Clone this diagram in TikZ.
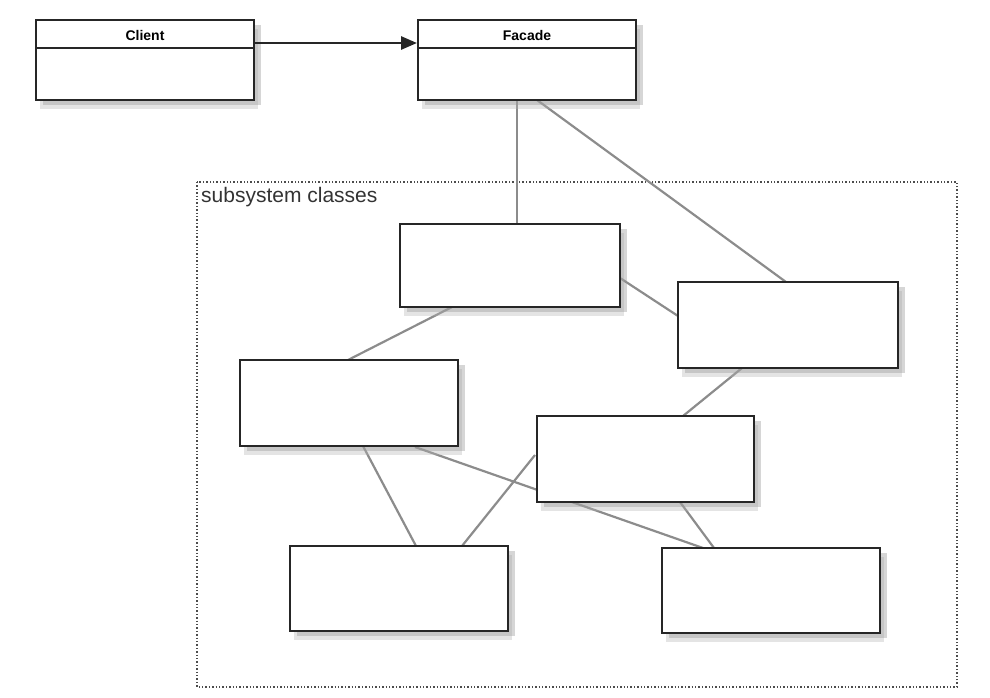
\documentclass[tikz,border=0pt]{standalone}
\usepackage{fontspec}
\setmainfont{Liberation Sans}
\usetikzlibrary{shadows,arrows.meta}
\begin{document}
\begin{tikzpicture}[x=1pt,y=-1pt,
  cls/.style={draw=black!85,line width=1.5pt,fill=white,
    drop shadow={shadow xshift=4pt,shadow yshift=-9pt,fill=black!30,opacity=0.35},
    drop shadow={shadow xshift=7pt,shadow yshift=-5pt,fill=black!40,opacity=0.4}},
  link/.style={draw=black!45,line width=2.2pt},
  title/.style={font=\bfseries\fontsize{14}{16}\selectfont}]
\useasboundingbox (0,0) rectangle (990,697);
% subsystem frame
\draw[dotted,line width=1.4pt,black!70] (197,182) rectangle (957,687);
\node[anchor=west,font=\fontsize{21}{24}\selectfont,black!80,inner sep=1pt] (lab) at (200,197) {subsystem classes};
% anchor coordinates
\coordinate (f1) at (517,100); \coordinate (a1) at (517,224);
\coordinate (f2) at (537,100); \coordinate (b1) at (786,282);
\coordinate (a2) at (620,278); \coordinate (b2) at (678,316);
\coordinate (a3) at (452,307); \coordinate (c1) at (348,360);
\coordinate (b3) at (742,368); \coordinate (d1) at (683,416);
\coordinate (c2) at (363,446); \coordinate (e1) at (416,546);
\coordinate (c3) at (415,447); \coordinate (fb1) at (703,548);
\coordinate (d2) at (535,455); \coordinate (e2) at (462,546);
\coordinate (d3) at (680,502); \coordinate (fb2) at (714,548);
\draw[link] (f1) -- (a1);
\draw[link] (f2) -- (b1);
\draw[link] (a2) -- (b2);
\draw[link] (a3) -- (c1);
\draw[link] (b3) -- (d1);
\draw[link] (c2) -- (e1);
\draw[link] (c3) -- (fb1);
\draw[link] (d2) -- (e2);
\draw[link] (d3) -- (fb2);
% boxes
\path[cls] (36,20) rectangle (254,100);
\draw[black!85,line width=1.3pt] (36,48) -- (254,48);
\node[title] (clientt) at (145,35) {Client};
\path[cls] (418,20) rectangle (636,100);
\draw[black!85,line width=1.3pt] (418,48) -- (636,48);
\node[title] (facadet) at (527,35) {Facade};
\coordinate (cr) at (255,43); \coordinate (fl) at (417,43);
\draw[line width=2.8pt,black!85,-{Triangle[length=16pt,width=13pt]}] (cr) -- (fl);
\path[cls] (400,224) rectangle (620,307);
\path[cls] (678,282) rectangle (898,368);
\path[cls] (240,360) rectangle (458,446);
\path[cls] (537,416) rectangle (754,502);
\path[cls] (290,546) rectangle (508,631);
\path[cls] (662,548) rectangle (880,633);
\end{tikzpicture}
\end{document}
